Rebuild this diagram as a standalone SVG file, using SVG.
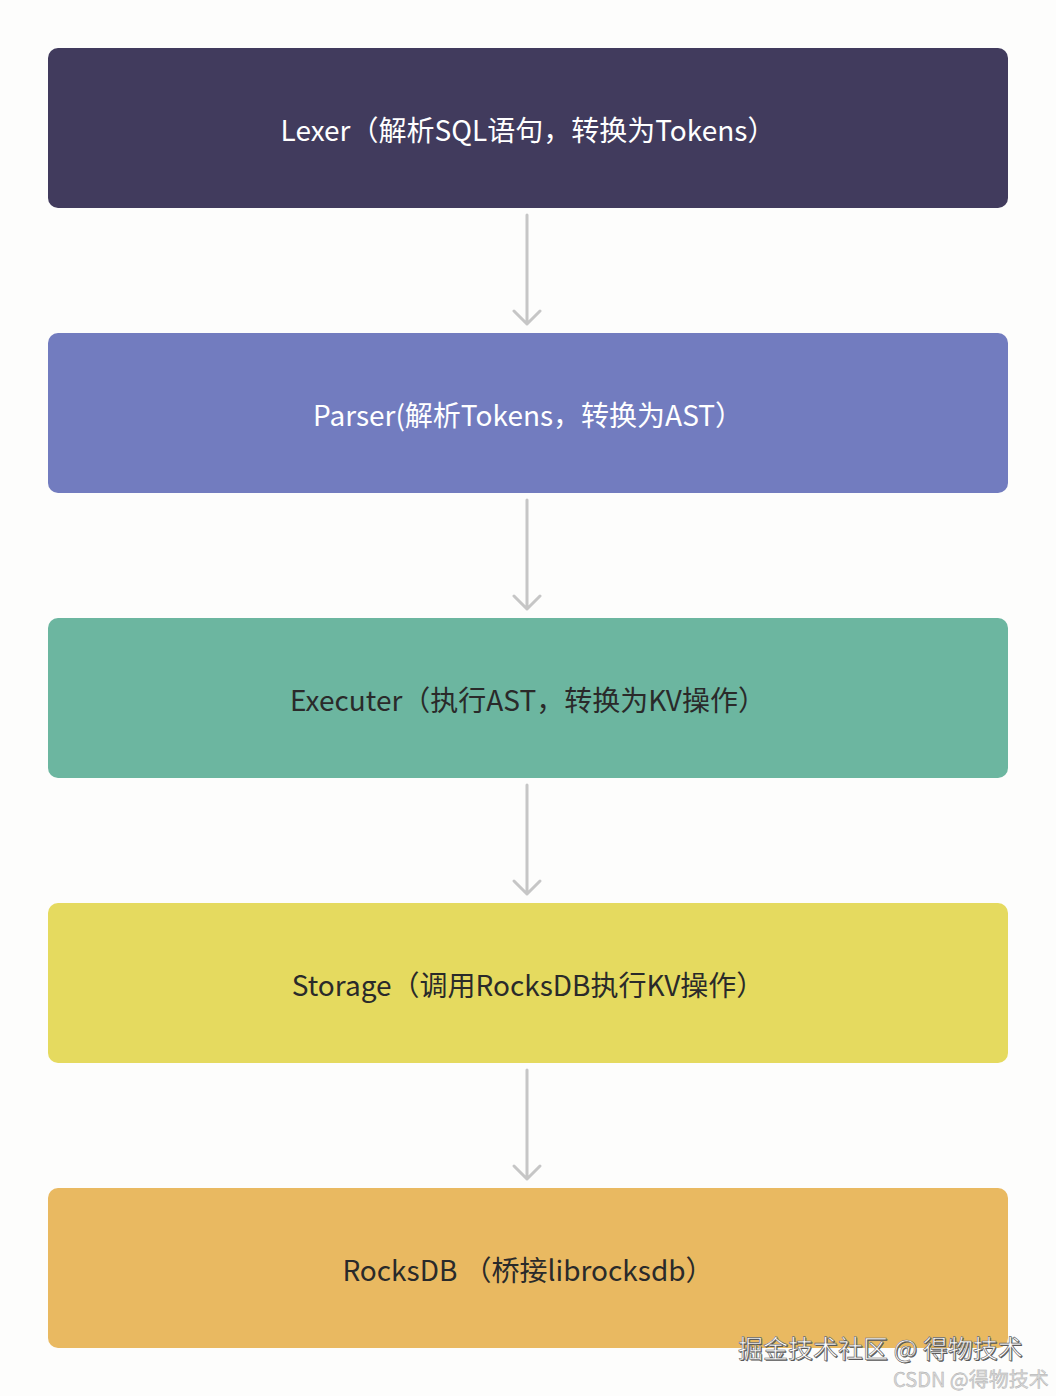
<svg xmlns="http://www.w3.org/2000/svg" width="1056" height="1396" viewBox="0 0 1056 1396">
<defs>
<style>
.box{stroke:none}
.lbl{font-family:"Noto Sans CJK SC","Noto Sans",sans-serif;font-size:28px;text-anchor:middle}
.light{fill:#ffffff}
.dark{fill:#2a2a2a}
.conn{stroke:#c6c6c6;stroke-width:3;fill:none;stroke-linecap:round;stroke-linejoin:round}
.wm{font-family:"Noto Sans CJK SC","Noto Sans",sans-serif}
</style>
</defs>
<rect x="0" y="0" width="1056" height="1396" fill="#fdfdfc"/>
<g id="lexer">
<rect class="box" x="48" y="48" width="960" height="160" rx="10" fill="#413b5d"/>
<text class="lbl light" x="528" y="141">Lexer（解析SQL语句，转换为Tokens）</text>
</g>
<g id="parser">
<rect class="box" x="48" y="333" width="960" height="160" rx="10" fill="#727cbf"/>
<text class="lbl light" x="528" y="426">Parser(解析Tokens，转换为AST）</text>
</g>
<g id="executer">
<rect class="box" x="48" y="618" width="960" height="160" rx="10" fill="#6cb6a0"/>
<text class="lbl dark" x="528" y="711">Executer（执行AST，转换为KV操作）</text>
</g>
<g id="storage">
<rect class="box" x="48" y="903" width="960" height="160" rx="10" fill="#e5da5f"/>
<text class="lbl dark" x="528" y="996">Storage（调用RocksDB执行KV操作）</text>
</g>
<g id="rocksdb">
<rect class="box" x="48" y="1188" width="960" height="160" rx="10" fill="#e9b961"/>
<text class="lbl dark" x="528" y="1281">RocksDB （桥接librocksdb）</text>
</g>
<g id="connectors">
<path class="conn" d="M527 215 V324 M514 311 L527 324 L540 311"/>
<path class="conn" d="M527 500 V609 M514 596 L527 609 L540 596"/>
<path class="conn" d="M527 785 V894 M514 881 L527 894 L540 881"/>
<path class="conn" d="M527 1070 V1179 M514 1166 L527 1179 L540 1166"/>
</g>
<g id="watermark">
<text class="wm" x="739" y="1359" font-size="25" fill="#555555">掘金技术社区 @ 得物技术</text>
<text class="wm" x="738" y="1358" font-size="25" fill="#ffffff" stroke="#666666" stroke-width="0.6">掘金技术社区 @ 得物技术</text>
<text class="wm" x="893" y="1387" font-size="20" fill="#d8d8d8" stroke="#aaaaaa" stroke-width="0.4">CSDN @得物技术</text>
</g>
</svg>
